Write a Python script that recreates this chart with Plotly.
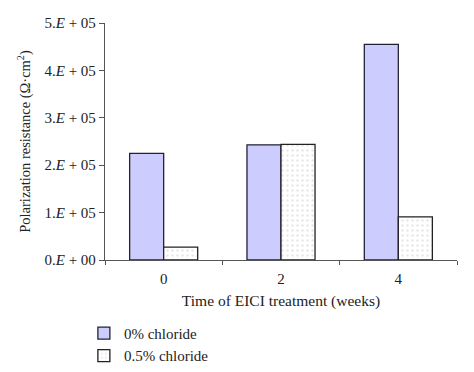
import plotly.graph_objects as go

categories = ["0", "2", "4"]
chloride_0 = [2.25e5, 2.43e5, 4.55e5]
chloride_05 = [0.27e5, 2.44e5, 0.91e5]
series_names = ["0% chloride", "0.5% chloride"]
ytick_vals = [0, 1e5, 2e5, 3e5, 4e5, 5e5]
ytick_text = ["0.<i>E</i> + 00", "1.<i>E</i> + 05", "2.<i>E</i> + 05",
              "3.<i>E</i> + 05", "4.<i>E</i> + 05", "5.<i>E</i> + 05"]

FONT = "Liberation Serif"
fig = go.Figure()
fig.add_bar(x=categories, y=chloride_0, name=series_names[0],
            marker=dict(color="#CCCCFF", line=dict(color="#222233", width=1.3)))
fig.add_bar(x=categories, y=chloride_05, name=series_names[1],
            marker=dict(color="white", line=dict(color="#222222", width=1.3),
                        pattern=dict(shape=".", fgcolor="#cfcfcf", bgcolor="white",
                                     size=5, solidity=0.2)))

fig.update_layout(
    width=474, height=372,
    margin=dict(l=105, r=17, t=23, b=112, autoexpand=False),
    plot_bgcolor="white", paper_bgcolor="white",
    barmode="group", bargap=0.42, bargroupgap=0,
    font=dict(family=FONT, size=15, color="#222"),
    showlegend=True,
    legend=dict(x=-0.06, xanchor="left", y=-0.24, yanchor="top",
                font=dict(family=FONT, size=15, color="#222"),
                itemwidth=30, tracegroupgap=0, bgcolor="rgba(0,0,0,0)"),
    xaxis=dict(type="category", showline=True, linecolor="#555", linewidth=1.3,
               ticks="outside", tickson="boundaries", ticklen=4, tickcolor="#555",
               showgrid=False, tickfont=dict(family=FONT, size=15),
               ticklabelstandoff=5, automargin=False,
               title=dict(text="Time of EICI treatment (weeks)", standoff=8,
                          font=dict(family=FONT, size=15.5))),
    yaxis=dict(range=[0, 5e5], showline=True, linecolor="#555", linewidth=1.3,
               ticks="outside", ticklen=5, tickcolor="#555", showgrid=False,
               zeroline=False, tickvals=ytick_vals, ticktext=ytick_text,
               tickfont=dict(family=FONT, size=15), automargin=False,
               title=dict(text="Polarization resistance (Ω·cm<sup>2</sup>)", standoff=10,
                          font=dict(family=FONT, size=14.5))),
)

fig.write_html("out.html", config={"displayModeBar": False},
               post_script="document.body.style.margin='0';document.body.style.overflow='hidden';")
